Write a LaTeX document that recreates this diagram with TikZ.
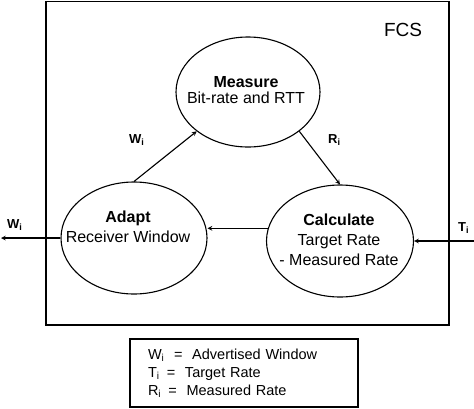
\documentclass[tikz,border=0pt]{standalone}
\usepackage{fontspec}
\setmainfont{Liberation Sans}
\usetikzlibrary{shapes.geometric}

\begin{document}
\begin{tikzpicture}[x=1pt, y=-1pt, >=stealth,
    proc/.style={draw=black, ellipse, line width=1.1pt, inner sep=0pt},
    proctext/.style={font=\fontsize{16}{20}\selectfont, align=center, inner sep=0pt},
    flow/.style={->, line width=1.1pt, draw=black},
    sig/.style={font=\fontsize{13}{15}\selectfont\bfseries, inner sep=0pt, anchor=base west},
    legend/.style={draw=black, line width=1.4pt, inner sep=0pt,
                   minimum width=228, minimum height=68, text width=192,
                   align=left, font=\fontsize{14.5}{18}\selectfont}]
  \useasboundingbox (0,0) rectangle (474,408);

  % ---- the FCS frame
  \draw[line width=1.4pt] (46,1.5) rectangle (449,325);
  \node[font=\fontsize{19}{22}\selectfont] (fcs) at (403,30) {FCS};

  % ---- the three stages
  \node[proc, minimum width=144, minimum height=110] (measure) at (248,92) {};
  \node[proctext] (measureT) at (246,90) {\textbf{Measure}\\[-4pt]Bit-rate and RTT};
  \node[proc, minimum width=146, minimum height=112] (adapt) at (134,238) {};
  \node[proctext] (adaptT) at (128,227) {\textbf{Adapt}\\Receiver Window};
  \node[proc, minimum width=147, minimum height=112] (calculate) at (340,241) {};
  \node[proctext] (calculateT) at (339,240) {\textbf{Calculate}\\Target Rate\\- Measured Rate};

  % ---- the loop
  \draw[flow] (adapt.north) -- (measure.south west);
  \draw[flow] (measure.south east) -- (calculate.north);
  \draw[flow] (calculate.170) -- (calculate.170 -| adapt.east);
  \node[sig] (wmeas) at (129,143) {W\textsubscript{i}};
  \node[sig] (rmeas) at (328,143) {R\textsubscript{i}};

  % ---- in and out of the frame
  \coordinate (wout) at (1,238);
  \coordinate (tin) at (474,241);
  \draw[flow] (adapt.west) -- (wout);
  \draw[flow] (tin) -- (calculate.east);
  \node[sig] (wlab) at (7,228) {W\textsubscript{i}};
  \node[sig] (tlab) at (458,231) {T\textsubscript{i}};

  % ---- the key
  \node[legend] (key) at (244,373)
    {W\textsubscript{i} \ = \ Advertised Window\\
     T\textsubscript{i} \,= \ Target Rate\\
     R\textsubscript{i} \,= \ Measured Rate};
\end{tikzpicture}
\end{document}
